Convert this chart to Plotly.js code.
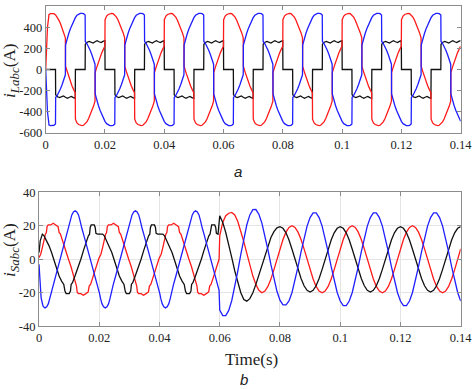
<!DOCTYPE html>
<html><head><meta charset="utf-8">
<script src="https://cdn.plot.ly/plotly-3.0.1.min.js"></script>
<style>html,body{margin:0;padding:0;background:#fff}#c{width:474px;height:389px}</style>
</head><body><div id="c"></div>
<script>
// ---------- shared ----------
const xTicks = [0, 0.02, 0.04, 0.06, 0.08, 0.1, 0.12, 0.14];
const xTickText = ['0', '0.02', '0.04', '0.06', '0.08', '0.1', '0.12', '0.14'];
const yTopTicks = [-600, -400, -200, 0, 200, 400, 600];
const yTopText = ['-600', '-400', '-200', '0', '200', '400', '600'];
const yBotTicks = [-40, -20, 0, 20, 40];
const yBotText = ['-40', '-20', '0', '20', '40'];

// ---------- (a) load currents: one steady 20 ms cycle (degrees, A) ----------
const topCycleStartsMs = [0, 20, 40, 60, 80, 100, 120];
const redTopDeg = [0.5, 10, 20, 30, 40, 50, 60, 70, 80, 90, 100, 110, 119.5, 120.5, 130, 140, 150, 160, 170, 179.5, 180.5, 190, 200, 210, 220, 230, 240, 250, 260, 270, 280, 290, 299.5, 300.5, 310, 320, 330, 340, 350, 359.5];
const redTopV = [470, 505, 520, 528, 530, 527, 515, 495, 466, 432, 392, 348, 300, 30, -20, -70, -115, -155, -190, -220, -470, -505, -520, -528, -530, -527, -515, -495, -466, -432, -392, -348, -300, -30, 20, 70, 115, 155, 190, 220];
const redTopStartMs = [0, 0.3, 0.6, 1.0];
const redTopStartV = [0, 220, 400, 490];
const blueTopDeg = [0, 10, 20, 30, 40, 50, 59.5, 60.5, 70, 80, 90, 100, 110, 119.5, 120.5, 130, 140, 150, 160, 170, 180, 190, 200, 210, 220, 230, 239.5, 240.5, 250, 260, 270, 280, 290, 299.5, 300.5, 310, 320, 330, 340, 350, 359.9];
const blueTopV = [-490, -512, -525, -530, -530, -527, -515, -265, -245, -216, -182, -142, -98, -50, 230, 290, 340, 385, 425, 460, 490, 512, 525, 530, 530, 527, 515, 265, 245, 216, 182, 142, 98, 50, -230, -290, -340, -385, -425, -460, -490];
const blueTopStartMs = [0, 0.3, 0.6, 1.0];
const blueTopStartV = [0, -220, -400, -490];
const blackTopDeg = [0.5, 59.5, 60.5, 72, 84, 96, 108, 120, 132, 144, 156, 168, 179.5, 180.5, 239.5, 240.5, 252, 264, 276, 288, 300, 312, 324, 336, 348, 359.5];
const blackTopV = [0, 0, -238, -258, -266, -255, -250, -262, -272, -262, -255, -266, -272, 0, 0, 238, 258, 266, 255, 250, 262, 272, 262, 255, 266, 272];
const blackTopStartMs = [0];
const blackTopStartV = [0];

// ---------- (b) source currents ----------
// before 0.06 s: one distorted cycle (degrees of a 20 ms cycle, A)
const botCycleStartsMs = [0, 20, 40];
const blueBotDeg = [2, 8, 16, 26, 36, 46, 56, 64, 70, 76, 84, 98, 112, 126, 138, 152, 166, 176, 182, 188, 196, 206, 216, 226, 236, 244, 250, 256, 266, 280, 294, 306, 320, 334, 348, 356];
const blueBotV = [-20.5, -23.5, -26.5, -28.3, -29, -28.3, -26.5, -23.5, -20.5, -18.5, -15, -10, -5, 0, 5, 10, 15, 18.5, 20.5, 23.5, 26.5, 28.3, 29, 28.3, 26.5, 23.5, 20.5, 18.5, 15, 10, 5, 0, -5, -10, -15, -18.5];
const blueBotStartMs = [0, 0.3, 0.7, 1.2];
const blueBotStartV = [-3, -14, -23, -27];
const redBotDeg = [0, 10, 20, 30, 38, 44, 48, 55, 70, 85, 100, 114, 120, 128, 138, 155, 176, 190, 200, 210, 218, 224, 228, 235, 250, 265, 280, 294, 300, 308, 318, 335, 356];
const redBotV = [1, 3, 7, 12, 15, 16, 19.5, 20.5, 20.5, 21.5, 20.5, 19.5, 16, 15, 12, 6, 0, -4, -8, -12, -15, -16, -19.5, -20.5, -20.5, -21.5, -20.5, -19.5, -16, -15, -12, -6, 0];
const blackBotDeg = [0, 20, 30, 45, 60, 75, 88, 105, 120, 135, 148, 155, 162, 180, 188, 192, 200, 215, 230, 250, 265, 280, 295, 302, 306, 312, 330, 336, 340, 350];
const blackBotV = [15, 15, 14, 11, 8, 4, 0, -5, -10, -13, -15, -19, -20.5, -20.5, -19, -15, -14, -10, -6, 0, 5, 10, 14, 15, 19, 20.5, 20.5, 19, 15.5, 15];
const blackBotStartMs = [0, 0.4];
const blackBotStartV = [4, 11];
// after 0.06 s: sampled every 1 ms from 60 ms to 140 ms (A)
const postStartMs = 60;
const redPost = [14, 22, 26, 27.5, 28, 26.5, 22.5, 17, 10.5, 3.5, -3.5, -10, -15, -18.5, -20, -19, -16.2, -11.8, -6.2, 0, 6.2, 11.8, 16.2, 19, 20, 19, 16.2, 11.8, 6.2, 0, -6.2, -11.8, -16.2, -19, -20, -19, -16.2, -11.8, -6.2, 0, 6.2, 11.8, 16.2, 19, 20, 19, 16.2, 11.8, 6.2, 0, -6.2, -11.8, -16.2, -19, -20, -19, -16.2, -11.8, -6.2, 0, 6.2, 11.8, 16.2, 19, 20, 19, 16.2, 11.8, 6.2, 0, -6.2, -11.8, -16.2, -19, -20, -19, -16.2, -11.8, -6.2, 0, 6.2];
const bluePost = [-30.3, -33.6, -33.6, -30.5, -24.6, -16.5, -7, 3, 12.5, 20.6, 26.5, 29.6, 29.7, 26.9, 21.6, 14.3, 5.7, -3.2, -11.8, -19.1, -24.4, -27.2, -27.2, -24.9, -19.8, -12.7, -4.4, 4.4, 12.7, 19.8, 24.9, 27.7, 27.7, 24.9, 19.8, 12.7, 4.4, -4.4, -12.7, -19.8, -24.9, -27.7, -27.7, -24.9, -19.8, -12.7, -4.4, 4.4, 12.7, 19.8, 24.9, 27.7, 27.7, 24.9, 19.8, 12.7, 4.4, -4.4, -12.7, -19.8, -24.9, -27.7, -27.7, -24.9, -19.8, -12.7, -4.4, 4.4, 12.7, 19.8, 24.9, 27.7, 27.7, 24.9, 19.8, 12.7, 4.4, -4.4, -12.7, -19.8, -24.9];
const blackPost = [26, 22, 16, 9, 1, -7, -14, -20, -24, -25, -23.5, -20, -15, -9.5, -3.5, 2.5, 8, 13, 16.5, 18.8, 19.5, 18.5, 15.8, 11.5, 6, 0, -6, -11.5, -15.8, -18.5, -19.5, -18.5, -15.8, -11.5, -6, 0, 6, 11.5, 15.8, 18.5, 19.5, 18.5, 15.8, 11.5, 6, 0, -6, -11.5, -15.8, -18.5, -19.5, -18.5, -15.8, -11.5, -6, 0, 6, 11.5, 15.8, 18.5, 19.5, 18.5, 15.8, 11.5, 6, 0, -6, -11.5, -15.8, -18.5, -19.5, -18.5, -15.8, -11.5, -6, 0, 6, 11.5, 15.8, 18.5, 19.5];

// ---------- assemble (the read cycle repeated at each cycle start) ----------
const deg2ms = a => a.map(d => d / 18);
function build(starts, deg, v, startMs, startV, post) {
  const tMs = deg2ms(deg);
  const xs = [], ys = [];
  const skipUntil = startMs.length ? startMs[startMs.length - 1] : -1;
  starts.forEach((s, k) => {
    if (k === 0) startMs.forEach((t, i) => { xs.push(t / 1000); ys.push(startV[i]); });
    tMs.forEach((t, i) => {
      if (k === 0 && t <= skipUntil) return;
      xs.push((s + t) / 1000); ys.push(v[i]);
    });
  });
  if (post) post.forEach((val, i) => { xs.push((postStartMs + i) / 1000); ys.push(val); });
  return {x: xs, y: ys};
}

const lw = 1.3;
const redC = '#ff1a1a', blueC = '#1f1fff', blackC = '#111111';
const traces = [];
function add(d, color, xa, ya) {
  traces.push({x: d.x, y: d.y, type: 'scatter', mode: 'lines', line: {color: color, width: lw}, xaxis: xa, yaxis: ya, hoverinfo: 'skip'});
}
add(build(topCycleStartsMs, blackTopDeg, blackTopV, blackTopStartMs, blackTopStartV), blackC, 'x', 'y');
add(build(topCycleStartsMs, redTopDeg, redTopV, redTopStartMs, redTopStartV), redC, 'x', 'y');
add(build(topCycleStartsMs, blueTopDeg, blueTopV, blueTopStartMs, blueTopStartV), blueC, 'x', 'y');

add(build(botCycleStartsMs, redBotDeg, redBotV, [], [], redPost), redC, 'x2', 'y2');
add(build(botCycleStartsMs, blackBotDeg, blackBotV, blackBotStartMs, blackBotStartV, blackPost), blackC, 'x2', 'y2');
add(build(botCycleStartsMs, blueBotDeg, blueBotV, blueBotStartMs, blueBotStartV, bluePost), blueC, 'x2', 'y2');

const serif = 'Times New Roman';
const sans = 'Arial';
const frame = '#8c8c8c';
function ax(extra) {
  return Object.assign({showline: true, linecolor: frame, linewidth: 1, mirror: 'ticks', ticks: 'inside', ticklen: 4, tickcolor: frame, zeroline: false, fixedrange: true, tickfont: {family: serif, size: 12.5, color: '#222'}}, extra);
}
const layout = {
  width: 474, height: 389, margin: {l: 0, r: 0, t: 0, b: 0},
  paper_bgcolor: '#fff', plot_bgcolor: '#fff', showlegend: false,
  font: {family: serif, size: 12.5, color: '#222'},
  xaxis: ax({domain: [0.0964, 0.9719], range: [0, 0.14], tickvals: xTicks, ticktext: xTickText, showgrid: false, anchor: 'y'}),
  yaxis: ax({domain: [0.6581, 0.9846], range: [-600, 600], tickvals: yTopTicks, ticktext: yTopText, showgrid: false, anchor: 'x'}),
  xaxis2: ax({domain: [0.0823, 0.9719], range: [0, 0.14], tickvals: xTicks, ticktext: xTickText, showgrid: true, gridcolor: '#e4e4e4', anchor: 'y2'}),
  yaxis2: ax({domain: [0.1612, 0.5057], range: [-40, 40], tickvals: yBotTicks, ticktext: yBotText, showgrid: true, gridcolor: '#e4e4e4', anchor: 'x2'}),
  annotations: [
    {xref: 'paper', yref: 'paper', x: 11 / 474, y: 1 - 71 / 389, text: '<i>i</i><sub><i><span style="font-size:13px">Labc</span></i></sub>(A)', textangle: -90, showarrow: false, font: {family: serif, size: 17, color: '#222'}, xanchor: 'center', yanchor: 'middle'},
    {xref: 'paper', yref: 'paper', x: 11 / 474, y: 1 - 250 / 389, text: '<i>i</i><sub><i><span style="font-size:13px">Sabc</span></i></sub>(A)', textangle: -90, showarrow: false, font: {family: serif, size: 17, color: '#222'}, xanchor: 'center', yanchor: 'middle'},
    {xref: 'paper', yref: 'paper', x: 238 / 474, y: 1 - 172 / 389, text: '<i>a</i>', showarrow: false, font: {family: sans, size: 15, color: '#222'}, xanchor: 'center', yanchor: 'middle'},
    {xref: 'paper', yref: 'paper', x: 244 / 474, y: 1 - 379 / 389, text: '<i>b</i>', showarrow: false, font: {family: sans, size: 15, color: '#222'}, xanchor: 'center', yanchor: 'middle'},
    {xref: 'paper', yref: 'paper', x: 252 / 474, y: 1 - 359 / 389, text: 'Time(s)', showarrow: false, font: {family: serif, size: 17, color: '#222'}, xanchor: 'center', yanchor: 'middle'}
  ]
};
Plotly.newPlot('c', traces, layout, {staticPlot: true, displayModeBar: false});
</script>
</body></html>
